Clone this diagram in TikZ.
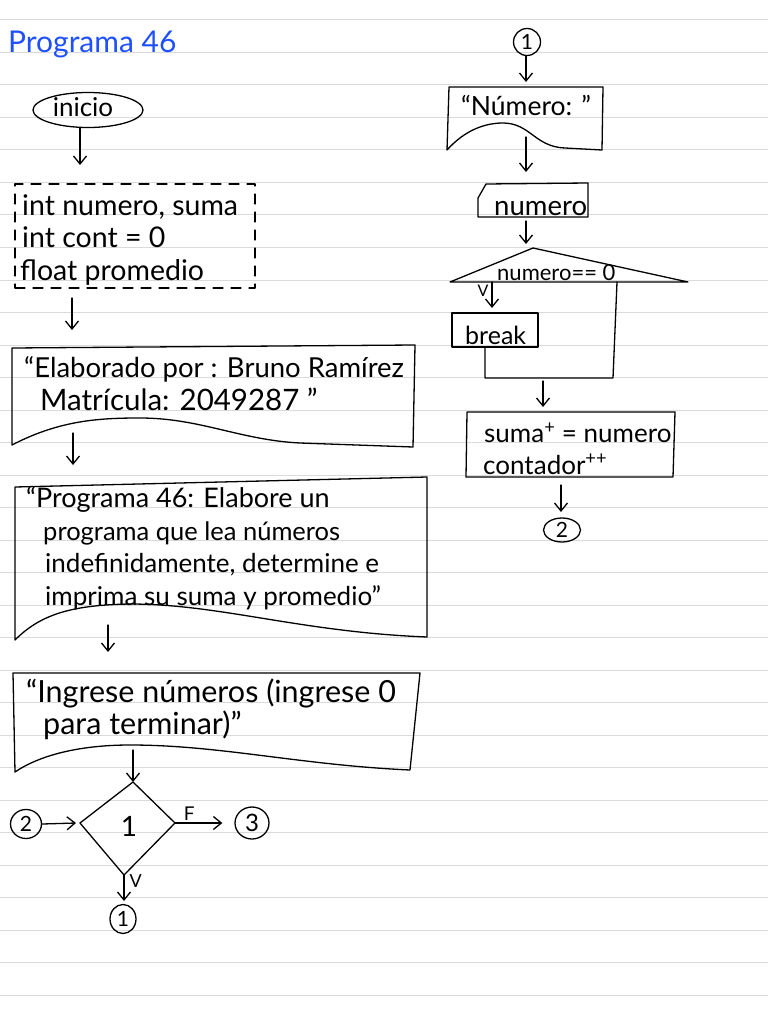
\documentclass[tikz,border=0pt]{standalone}
\usepackage{fontspec}
\setmainfont{Lato}
\usetikzlibrary{arrows.meta,shapes.geometric,calc}
\definecolor{titleblue}{RGB}{30,80,255}
\definecolor{rule}{RGB}{218,218,222}
\newcommand{\fsz}[1]{\fontsize{#1}{#1}\selectfont}
\begin{document}
\begin{tikzpicture}[x=1pt,y=-1pt,
  ink/.style={line width=1.3pt, line join=round, line cap=round},
  arr/.style={ink, -{Straight Barb[length=8pt,width=13pt,line width=1.3pt]}},
  txt/.style={anchor=base west, inner sep=0pt, font=\fsz{#1}},
  txt/.default=27,
  conn/.style={ellipse, draw, ink, inner sep=0pt, font=\fsz{21}}
]
% page and ruled lines
\fill[white] (0,0) rectangle (768,1024);
\useasboundingbox (0,0) rectangle (768,1024);
\foreach \n in {0,...,30}{
  \draw[rule, line width=1pt] (0,{20+32.5*\n}) -- (768,{20+32.5*\n});
}

% title
\node[anchor=base west, inner sep=0pt, text=titleblue, font=\fsz{30}] (title) at (8,53) {Programa 46};

% ---------- left column ----------
\node[ellipse, draw, ink, minimum width=110, minimum height=35, inner sep=0pt] (ini) at (88,110) {};
\node[anchor=base, inner sep=0pt, font=\fsz{26}] (initxt) at (83,117) {inicio};

\node[draw, ink, dash pattern=on 10pt off 8pt, minimum width=240, minimum height=104, inner sep=0pt] (decl) at (135,236) {};
\node[txt=28.5] (decl1) at (22,215) {int numero, suma};
\node[txt=28.5] (decl2) at (22,247.5) {int cont = 0};
\node[txt=28.5] (decl3) at (20,280) {float promedio};

% document 1
\node[minimum width=403, minimum height=97, inner sep=0pt] (doc1) at (213,396) {};
\draw[ink] (12,348) -- (415,345) -- (413,447) -- (300,443)
  .. controls (240,440) and (200,418) .. (140,418)
  .. controls (100,418) and (60,420) .. (12,445) -- cycle;
\node[txt=27.5] (doc1a) at (24,377.5) {“Elaborado por : Bruno Ramírez};
\node[txt=29.5] (doc1b) at (40,410) {Matrícula: 2049287 ”};

% document 2
\node[minimum width=412, minimum height=160, inner sep=0pt] (doc2) at (221,558) {};
\draw[ink] (15,487) -- (427,477) -- (427,637)
  .. controls (300,632) and (220,604) .. (130,604)
  .. controls (70,605) and (40,615) .. (15,640) -- cycle;
\node[txt=27] (doc2a) at (26,507.5) {“Programa 46: Elabore un};
\node[txt=25.5] (doc2b) at (43,540) {programa que lea números};
\node[txt=26] (doc2c) at (45,572.5) {indefinidamente, determine e};
\node[txt=26] (doc2d) at (45,605) {imprima su suma y promedio”};

% document 3
\node[minimum width=405, minimum height=98, inner sep=0pt] (doc3) at (216,722) {};
\draw[ink] (13,673) -- (420,673) -- (410,770)
  .. controls (300,765) and (220,745) .. (130,745)
  .. controls (80,745) and (40,755) .. (15,772) -- cycle;
\node[txt=30.5] (doc3a) at (26,702) {“Ingrese números (ingrese 0};
\node[txt=30.5] (doc3b) at (43,734) {para terminar)”};

% decision 1
\node[minimum width=95, minimum height=93, inner sep=0pt, font=\fsz{28}] (dec) at (129,826) {1};
\draw[ink] (133,782) -- (175,823) -- (124,875) -- (80,823) -- cycle;
\coordinate (dectop) at (133,782);
\coordinate (decleft) at (80,823);
\coordinate (decright) at (175,823);
\coordinate (decbot) at (124,875);

\node[conn, minimum width=31, minimum height=29] (c2in) at (26,824) {2};
\node[conn, minimum width=34, minimum height=32, font=\fsz{24}] (c3) at (252,823) {3};
\node[conn, minimum width=26, minimum height=29] (c1out) at (123,919) {1};

% ---------- right column ----------
\node[conn, minimum width=27, minimum height=27] (c1in) at (527,42) {1};

\node[minimum width=155, minimum height=63, inner sep=0pt] (doc4) at (525,118) {};
\draw[ink] (449,87) -- (603,87) -- (602,150) -- (565,148)
  .. controls (535,147) and (530,123) .. (503,123)
  .. controls (485,123) and (465,130) .. (447,150) -- cycle;
\node[txt=26.5] (doc4a) at (461,116) {“Número: ”};

\node[minimum width=110, minimum height=34, inner sep=0pt] (inp) at (533,200) {};
\draw[ink] (478,217) -- (478,198) -- (486,184) -- (588,183) -- (588,217) -- cycle;
\node[txt=27.5] (inpt) at (494,216) {numero};

\node[minimum width=238, minimum height=34, inner sep=0pt] (cond) at (569,265) {};
\draw[ink] (450,282) -- (533,248) -- (688,282) -- cycle;
\node[txt=22] (condt) at (497,280) {numero== 0};

\node[minimum width=86, minimum height=34, inner sep=0pt] (brk) at (495,330) {};
\draw[ink] (452,313) rectangle (538,347);
\node[txt=25] (brkt) at (465,344) {break};

\node[minimum width=208, minimum height=65, inner sep=0pt] (proc) at (570,444) {};
\draw[ink] (467,412) -- (675,412) -- (673,477) -- (466,477) -- cycle;
\node[txt=26] (proc1) at (484,442.5) {suma\textsuperscript{+} = numero};
\node[txt=26] (proc2) at (483,474) {contador\textsuperscript{++}};

\node[conn, minimum width=37, minimum height=24] (c2out) at (562,530) {2};

% ---------- connectors ----------
\coordinate (a1s) at (80,128);  \coordinate (a1e) at (80,165);
\coordinate (a2s) at (72,298);  \coordinate (a2e) at (72,330);
\coordinate (a3s) at (73,433);  \coordinate (a3e) at (73,465);
\coordinate (a4s) at (108,625); \coordinate (a4e) at (108,652);
\coordinate (a5s) at (133,750);
\draw[arr] (a1s) -- (a1e);
\draw[arr] (a2s) -- (a2e);
\draw[arr] (a3s) -- (a3e);
\draw[arr] (a4s) -- (a4e);
\draw[arr] (a5s) -- (dectop);
\draw[arr] (c2in.east) -- ([xshift=-4pt]decleft);
\draw[arr] (decright) -- node[above, pos=0.3, inner sep=2pt, font=\fsz{19}] (flab) {F} ([xshift=-12pt]c3.west);
\coordinate (vend) at (124,901);
\draw[arr] (decbot) -- node[right, pos=0.25, inner sep=5pt, font=\fsz{18}] (vlab) {V} (vend);

\coordinate (b1s) at (526,56);  \coordinate (b1e) at (526,82);
\coordinate (b2s) at (526,137); \coordinate (b2e) at (526,172);
\coordinate (b3s) at (526,221); \coordinate (b3e) at (526,244);
\coordinate (vs) at (492,282);  \coordinate (ve) at (492,308);
\coordinate (m1) at (485,347);  \coordinate (m2) at (485,378);
\coordinate (m3) at (613,378);  \coordinate (m4) at (617,282);
\coordinate (b4s) at (543,381); \coordinate (b4e) at (543,407);
\coordinate (b5s) at (561,485); \coordinate (b5e) at (561,512);
\draw[arr] (b1s) -- (b1e);
\draw[arr] (b2s) -- (b2e);
\draw[arr] (b3s) -- (b3e);
\draw[arr] (vs) -- node[left, pos=0.35, inner sep=3pt, font=\fsz{16}] (vlab2) {V} (ve);
\draw[ink] (m1) -- (m2) -- (m3) -- (m4);
\draw[arr] (b4s) -- (b4e);
\draw[arr] (b5s) -- (b5e);
\end{tikzpicture}
\end{document}
